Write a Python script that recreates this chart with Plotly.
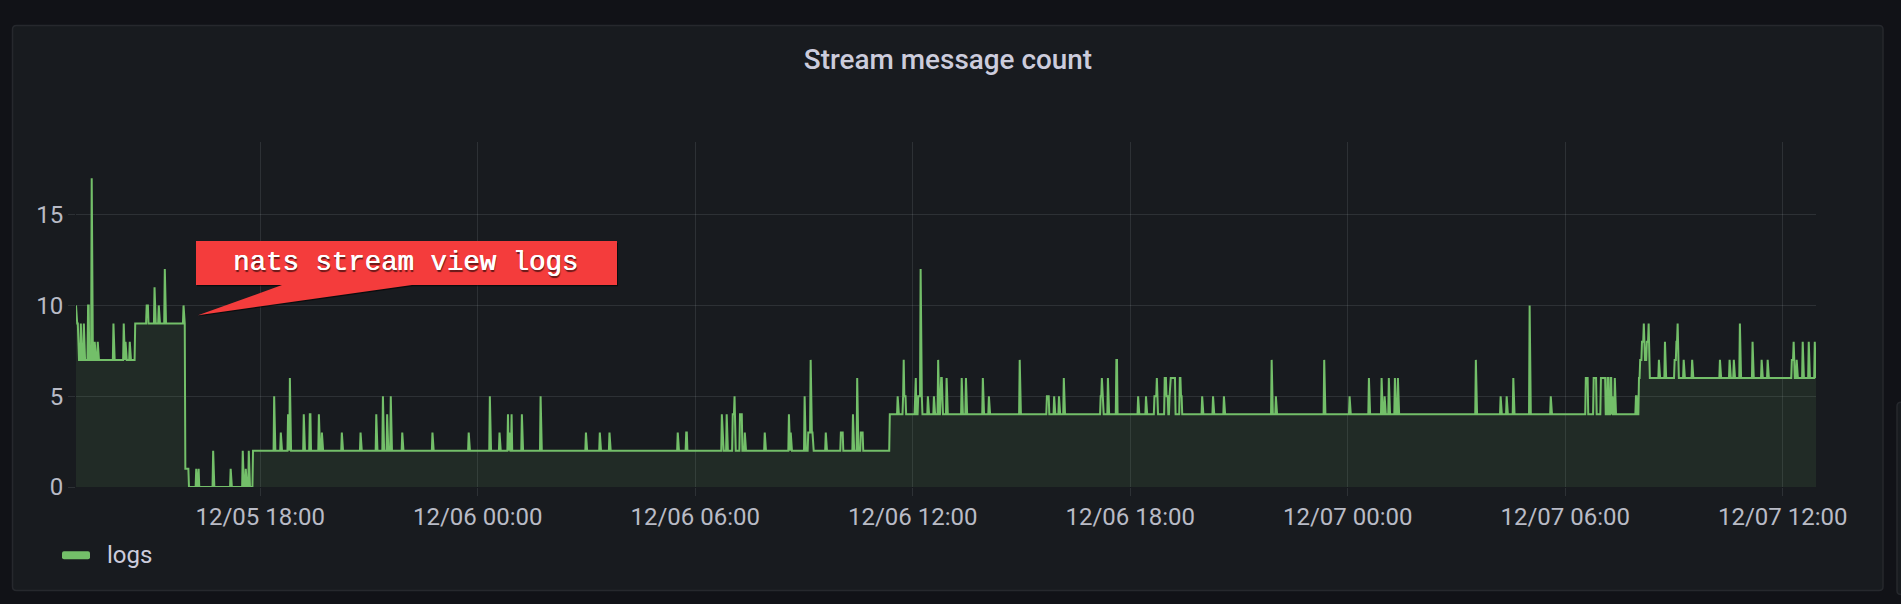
import pandas as pd
import plotly.graph_objects as go

WIDTH, HEIGHT = 1901, 604
PLOT_L, PLOT_R, PLOT_T, PLOT_B = 76, 1816, 142, 486.7

window_start = pd.Timestamp("2022-12-05 12:55")
window_minutes = 2880

# baseline of the stream: (minute the level starts, level)
baseline_levels = [(0, 7), (98, 9), (181, 1), (187, 0), (293, 2), (1347, 4), (2587, 6)]

# spikes: (minutes after window start, count)
spikes_start = [
    (0, 10), (1, 9), (2, 9), (3, 9), (8, 9), (13, 9), (20, 10), (21, 10), (26, 17), (31, 8), (36, 8),
    (62, 9), (79, 9), (82, 8), (89, 8), (117, 10), (118, 10), (119, 10), (130, 11), (137, 10),
    (147, 12), (178, 10), (199, 1), (203, 1), (227, 2), (256, 1), (276, 2), (281, 1), (286, 2),
]
spikes_evening = [
    (328, 5), (339, 3), (351, 4), (354, 6), (377, 4), (387, 4), (388, 4), (402, 4), (407, 3),
    (440, 3), (471, 3), (497, 4), (508, 5), (515, 4), (521, 5), (540, 3), (590, 3), (650, 3),
    (685, 5), (701, 3), (715, 4), (717, 3), (721, 4), (738, 4), (769, 5), (844, 3), (867, 3), (883, 3),
]
spikes_morning = [
    (996, 3), (1010, 3), (1011, 3), (1069, 4), (1070, 3), (1077, 4), (1087, 4), (1088, 4), (1089, 4),
    (1090, 5), (1099, 4), (1100, 4), (1101, 4), (1102, 4), (1107, 3), (1140, 3), (1180, 4), (1183, 3),
    (1206, 5), (1212, 3), (1213, 3), (1214, 3), (1215, 3), (1216, 7), (1217, 3), (1218, 3), (1219, 3),
    (1241, 3), (1266, 3), (1267, 3), (1268, 3), (1269, 3), (1286, 4), (1293, 6),
    (1299, 3), (1300, 3), (1301, 3), (1302, 3),
]
spikes_afternoon = [
    (1360, 5), (1369, 5), (1370, 7), (1371, 5), (1372, 5), (1373, 5), (1389, 5), (1390, 6),
    (1394, 5), (1395, 5), (1396, 5), (1397, 5), (1398, 12), (1399, 5), (1400, 5), (1410, 5), (1420, 5),
    (1427, 7), (1431, 6), (1432, 6), (1433, 6), (1441, 6), (1466, 6), (1473, 6), (1501, 6), (1511, 5),
    (1562, 7), (1607, 5), (1608, 5), (1609, 5), (1610, 5), (1619, 5), (1627, 5), (1635, 6),
    (1696, 5), (1697, 5), (1698, 6), (1699, 5), (1700, 5), (1708, 6), (1722, 7), (1723, 7),
    (1758, 5), (1771, 5), (1785, 5), (1786, 5), (1787, 5), (1788, 5), (1789, 6),
    (1802, 6), (1803, 6), (1804, 6), (1805, 5), (1806, 5), (1807, 5), (1810, 5),
    (1811, 6), (1812, 6), (1813, 6), (1814, 6), (1815, 6), (1816, 6), (1817, 6), (1818, 6), (1819, 6),
    (1827, 6), (1828, 6), (1829, 5), (1830, 5), (1864, 5), (1882, 5), (1900, 5),
]
spikes_night = [
    (1979, 7), (1986, 5), (2066, 7), (2108, 5), (2140, 6), (2161, 6), (2166, 5), (2173, 6), (2183, 6),
    (2188, 6), (2317, 7), (2358, 5), (2368, 5), (2379, 6), (2406, 10), (2441, 5),
    (2499, 6), (2500, 6), (2501, 6), (2502, 6), (2512, 6), (2513, 6), (2514, 6), (2515, 6), (2516, 6),
    (2524, 6), (2525, 6), (2526, 6), (2527, 6), (2528, 6), (2529, 6), (2530, 6), (2531, 6),
    (2535, 6), (2536, 6), (2540, 6), (2541, 6), (2543, 5), (2547, 6), (2582, 5), (2583, 5),
]
spikes_last = [
    (2589, 7), (2590, 7), (2591, 7), (2592, 8), (2593, 8), (2594, 8), (2595, 9), (2596, 7), (2597, 7),
    (2598, 7), (2599, 7), (2600, 8), (2601, 8), (2602, 8), (2603, 9), (2604, 7), (2620, 7), (2630, 8),
    (2646, 7), (2647, 7), (2648, 7), (2649, 8), (2650, 8), (2651, 9), (2652, 7), (2661, 7), (2675, 7),
    (2721, 7), (2737, 7), (2744, 7), (2754, 9), (2775, 8), (2790, 7), (2800, 7),
    (2840, 7), (2841, 7), (2842, 7), (2843, 8), (2848, 7), (2858, 8), (2868, 8), (2878, 8),
]

GREEN = "#73BF69"
PAGE_BG = "#111217"
PANEL_BG = "#181B1F"
BORDER = "#26282D"
GRID = "rgba(240,250,255,0.10)"
TEXT = "#CCCCDC"
TICK_TEXT = "#B9BBC6"
RED = "#F43C3C"


def build_series():
    values = [0] * (window_minutes + 1)
    for (start, level), nxt in zip(baseline_levels, baseline_levels[1:] + [(window_minutes + 1, None)]):
        for m in range(start, nxt[0]):
            values[m] = level
    for group in (spikes_start, spikes_evening, spikes_morning, spikes_afternoon, spikes_night, spikes_last):
        for m, v in group:
            values[m] = v
    times = [window_start + pd.Timedelta(minutes=m) for m in range(window_minutes + 1)]
    return times, values


def px(x):
    return (x - PLOT_L) / (PLOT_R - PLOT_L)


def py(y):
    return (PLOT_B - y) / (PLOT_B - PLOT_T)


def round_rect(x0, y0, x1, y1, r):
    return (
        f"M {px(x0 + r)},{py(y0)} L {px(x1 - r)},{py(y0)} Q {px(x1)},{py(y0)} {px(x1)},{py(y0 + r)} "
        f"L {px(x1)},{py(y1 - r)} Q {px(x1)},{py(y1)} {px(x1 - r)},{py(y1)} "
        f"L {px(x0 + r)},{py(y1)} Q {px(x0)},{py(y1)} {px(x0)},{py(y1 - r)} "
        f"L {px(x0)},{py(y0 + r)} Q {px(x0)},{py(y0)} {px(x0 + r)},{py(y0)} Z"
    )


def paper_shape(path, fill, line=None, layer="above", width=1.5):
    return dict(
        type="path", path=path, xref="paper", yref="paper", fillcolor=fill, layer=layer,
        line=dict(color=line or fill, width=width if line else 0),
    )


def poly(points):
    return "M " + " L ".join(f"{px(x)},{py(y)}" for x, y in points) + " Z"


times, values = build_series()

fig = go.Figure()
fig.add_trace(go.Scatter(
    x=times, y=values, mode="lines", name="logs", fill="tozeroy",
    fillcolor="rgba(115,191,105,0.10)", line=dict(color=GREEN, width=2),
))

shapes = [
    paper_shape(round_rect(12.5, 25.5, 1883, 590, 4), PANEL_BG, BORDER, layer="below"),
    paper_shape(round_rect(1897, 402, 1915, 594, 4), PANEL_BG, BORDER, layer="below"),
    # callout box with its shadow
    paper_shape(poly([(197, 243), (618, 243), (618, 286), (413, 286), (199, 316), (283, 286), (197, 286)]),
                "rgba(0,0,0,0.55)"),
    paper_shape(poly([(196, 241), (617, 241), (617, 285), (412, 285), (198, 315), (282, 285), (196, 285)]), RED),
    # legend swatch
    paper_shape(round_rect(62, 551, 90, 559, 2), GREEN),
]

annotations = [
    # the extra white shadow thickens the regular weight, the reference sits between regular and bold
    dict(text="nats stream view logs", xref="paper", yref="paper", x=px(405), y=py(262),
         xanchor="center", yanchor="middle", showarrow=False,
         font=dict(family="Liberation Mono", size=27.4, color="#FFFFFF",
                   shadow="0.6px 0 0 #FFFFFF, 1px 2px 1px rgba(0,0,0,0.6)")),
    dict(text="logs", xref="paper", yref="paper", x=px(104.5), y=py(555),
         xanchor="left", yanchor="middle", showarrow=False,
         font=dict(family="Roboto", size=24, color=TEXT)),
]

fig.update_layout(
    width=WIDTH, height=HEIGHT,
    margin=dict(l=PLOT_L, r=WIDTH - PLOT_R, t=PLOT_T, b=HEIGHT - PLOT_B, pad=0),
    paper_bgcolor=PAGE_BG, plot_bgcolor="rgba(0,0,0,0)",
    showlegend=False, shapes=shapes, annotations=annotations,
    title=dict(text="Stream message count", x=948 / WIDTH, xanchor="center", xref="container",
               y=1 - 59 / HEIGHT, yanchor="middle",
               font=dict(family="Roboto", size=27.9, color=TEXT, weight=500)),
    font=dict(family="Roboto", color=TICK_TEXT, size=24),
)
fig.update_xaxes(
    range=[window_start, window_start + pd.Timedelta(minutes=window_minutes)],
    tick0="2022-12-05 18:00", dtick=6 * 3600 * 1000, tickformat="%m/%d %H:%M",
    showgrid=True, gridcolor=GRID, gridwidth=1, zeroline=False, showline=False,
    ticks="outside", ticklen=8, tickwidth=1, tickcolor=GRID,
    tickfont=dict(family="Roboto", size=24, color=TICK_TEXT),
)
fig.update_yaxes(
    range=[0, 19], tickvals=[0, 5, 10, 15],
    showgrid=True, gridcolor=GRID, gridwidth=1, zeroline=False, showline=False,
    ticks="outside", ticklen=7, tickwidth=1, tickcolor=GRID,
    tickfont=dict(family="Roboto", size=24, color=TICK_TEXT),
)

fig.write_html(
    "out.html",
    config={"displayModeBar": False},
    post_script="document.body.style.margin='0';document.body.style.overflow='hidden';",
)
